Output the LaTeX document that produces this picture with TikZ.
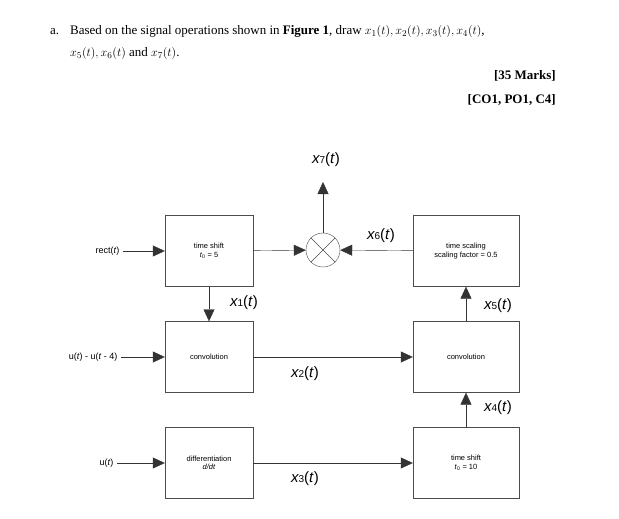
\documentclass[tikz,border=0pt]{standalone}
\usepackage{fontspec}
\setmainfont{Liberation Serif}
\newfontfamily\diagfont{Liberation Sans}
\usetikzlibrary{arrows.meta}
\tikzset{
  block/.style={draw=black!70, minimum width=88pt, minimum height=71pt, align=center,
    font=\diagfont\fontsize{7.5}{8.5}\selectfont, inner sep=1pt},
  sig/.style={-{Triangle[length=12pt,width=11pt]}, black!80},
  inlab/.style={font=\diagfont\fontsize{9}{10}\selectfont, anchor=east},
  xlab/.style={font=\diagfont\itshape\fontsize{15}{16}\selectfont},
  qtext/.style={font=\fontsize{13}{15}\selectfont, inner sep=0},
}
\newcommand{\xs}[1]{x{\fontsize{10}{11}\selectfont\upshape #1}\upshape(\textit{t})}
\begin{document}
\begin{tikzpicture}[x=1pt,y=-1pt]
  \useasboundingbox (0,0) rectangle (619,519);

  % Question text
  \node[qtext, anchor=base west] (item) at (50,35) {a.};
  \node[qtext, anchor=base west] (q1) at (70,35)
    {Based on the signal operations shown in \textbf{Figure 1}, draw $x_1(t), x_2(t), x_3(t), x_4(t)$,};
  \node[qtext, anchor=base west] (q2) at (70,57) {$x_5(t), x_6(t)$ and $x_7(t)$.};
  \node[qtext, anchor=base east, font=\fontsize{13}{15}\selectfont\bfseries] (marks) at (556,80) {[35 Marks]};
  \node[qtext, anchor=base east, font=\fontsize{13}{15}\selectfont\bfseries] (co) at (556,103) {[CO1, PO1, C4]};

  % Blocks
  \node[block] (shift) at (209,251) {time shift\\\textit{t}\textsubscript{0} = 5};
  \node[block] (convl) at (209,357) {convolution};
  \node[block] (diff) at (209,463) {differentiation\\\textit{d/dt}};
  \node[block, minimum width=106pt] (scale) at (466,251) {time scaling\\scaling factor = 0.5};
  \node[block, minimum width=106pt] (convr) at (466,357) {convolution};
  \node[block, minimum width=106pt] (shiftr) at (466,463) {time shift\\\textit{t}\textsubscript{0} = 10};

  % Multiplier
  \node[circle, draw=black!70, minimum size=34pt, inner sep=0] (mult) at (323,250) {};
  \draw[black!70] (mult.north west) -- (mult.south east) (mult.north east) -- (mult.south west);
  \coordinate (out) at (323,182);

  % Inputs
  \node[inlab] (rect) at (123,251) {rect(\textit{t})};
  \node[inlab] (uu) at (121,357) {u(\textit{t}) - u(\textit{t} - 4)};
  \node[inlab] (u) at (117,463) {u(\textit{t})};

  % Connections
  \draw[sig] (rect) -- (shift);
  \draw[sig] (uu) -- (convl);
  \draw[sig] (u) -- (diff);
  \draw[sig] (shift) -- (convl);
  \draw[sig] (shift) -- (mult);
  \draw[sig] (convl) -- (convr);
  \draw[sig] (diff) -- (shiftr);
  \draw[sig] (shiftr) -- (convr);
  \draw[sig] (convr) -- (scale);
  \draw[sig] (scale) -- (mult);
  \draw[sig] (mult) -- (out);

  % Signal labels
  \node[xlab] (l1) at (244,303) {\xs{1}};
  \node[xlab] (l2) at (305,374) {\xs{2}};
  \node[xlab] (l3) at (305,479) {\xs{3}};
  \node[xlab] (l4) at (498,408) {\xs{4}};
  \node[xlab] (l5) at (498,306) {\xs{5}};
  \node[xlab] (l6) at (381,236) {\xs{6}};
  \node[xlab] (l7) at (326,160) {\xs{7}};
\end{tikzpicture}
\end{document}
